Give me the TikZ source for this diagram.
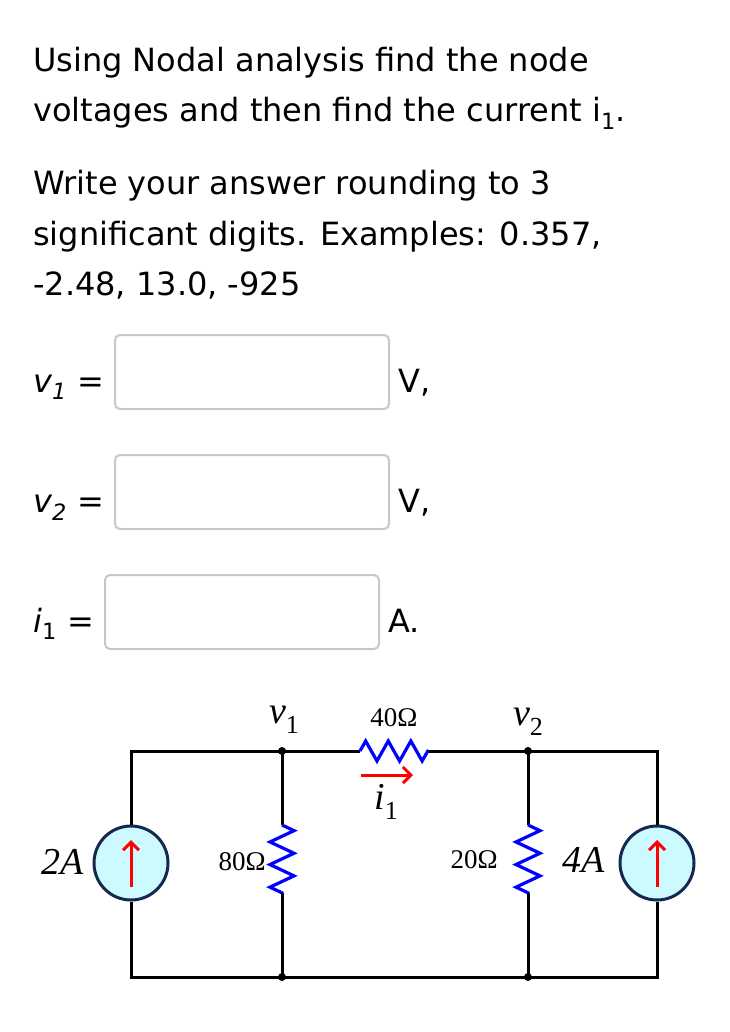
\documentclass[tikz,border=0pt]{standalone}
\usepackage{fontspec}
\setmainfont{DejaVu Sans}
\newfontfamily\ser{Liberation Serif}
\usetikzlibrary{decorations.pathmorphing,arrows.meta}
\newcommand{\mysub}[1]{\raisebox{-0.25em}{\fontsize{26}{26}\selectfont\upshape #1}}
\begin{document}
\begin{tikzpicture}[x=1pt,y=-1pt,
  txt/.style={anchor=base west,inner sep=0,font=\fontsize{32}{32}\selectfont},
  box/.style={draw=black!22,line width=2pt,rounded corners=5pt},
  wire/.style={line width=3pt},
  res/.style={draw=blue,line width=3.2pt,decorate,decoration={zigzag,segment length=22.6pt,amplitude=12pt,pre length=0pt,post length=0pt}},
  hres/.style={draw=blue,line width=3.2pt,decorate,decoration={zigzag,segment length=22.6pt,amplitude=10pt,pre length=0pt,post length=0pt}},
  src/.style={circle,draw={rgb,255:red,20;green,40;blue,80},line width=3pt,fill={rgb,255:red,204;green,250;blue,255},minimum size=74pt,inner sep=0},
  arr/.style={-{Straight Barb[length=8pt,width=16pt]},red,line width=3pt},
  lab/.style={inner sep=0,font=\ser\itshape\fontsize{38}{38}\selectfont},
  slab/.style={inner sep=0,font=\ser\fontsize{27}{27}\selectfont},
  dot/.style={circle,fill=black,inner sep=0,minimum size=8pt}]
\useasboundingbox (0,0) rectangle (729,1032);
\node[txt] (t1) at (33,72) {Using Nodal analysis find the node};
\node[txt] (t2) at (33,122) {voltages and then find the current i\textsubscript{1}.};
\node[txt] (t3) at (33,195) {Write your answer rounding to 3};
\node[txt] (t4) at (33,245) {significant digits. Examples: 0.357,};
\node[txt] (t5) at (33,295) {-2.48, 13.0, -925};
\node[txt] (l1) at (33,392) {\textit{v\textsubscript{1}} =};
\node[txt] (l2) at (33,512) {\textit{v\textsubscript{2}} =};
\node[txt] (l3) at (33,632) {\textit{i}\textsubscript{1} =};
\draw[box] (115,335) rectangle (389,409);
\draw[box] (115,455) rectangle (389,529);
\draw[box] (105,575) rectangle (379,649);
\node[txt] (u1) at (398,392) {V,};
\node[txt] (u2) at (398,512) {V,};
\node[txt] (u3) at (388,632) {A.};
% circuit
\coordinate (tl) at (131,751); \coordinate (bl) at (131,977);
\coordinate (tr) at (657,751); \coordinate (br) at (657,977);
\coordinate (a) at (282,751); \coordinate (ab) at (282,977);
\coordinate (b) at (528,751); \coordinate (bb) at (528,977);
\node[src] (s1) at (131,863) {};
\node[src] (s2) at (657,863) {};
\draw[arr] (131,887) -- (131,840);
\draw[arr] (657,887) -- (657,840);
\coordinate (r1t) at (282,825); \coordinate (r1b) at (282,893);
\coordinate (r2t) at (528,825); \coordinate (r2b) at (528,893);
\coordinate (r3l) at (360,751); \coordinate (r3r) at (428,751);
\draw[wire] (s1.north) -- (tl) -- (a) -- (r3l);
\draw[wire] (r3r) -- (b) -- (tr) -- (s2.north);
\draw[wire] (s1.south) -- (bl) -- (br) -- (s2.south);
\draw[wire] (a) -- (r1t); \draw[wire] (r1b) -- (ab);
\draw[wire] (b) -- (r2t); \draw[wire] (r2b) -- (bb);
\draw[res] (r1t) -- (r1b);
\draw[res] (r2t) -- (r2b);
\draw[hres] (r3l) -- (r3r);
\node[dot] at (a) {}; \node[dot] at (b) {}; \node[dot] at (ab) {}; \node[dot] at (bb) {};
\draw[arr] (361,775) -- (413,775);
\node[lab] (v1) at (284,720) {v\mysub{1}};
\node[lab] (v2) at (528,722) {v\mysub{2}};
\node[lab] (i1) at (386,802) {i\mysub{1}};
\node[slab] (o40) at (394,718) {40Ω};
\node[slab,anchor=east] (o80) at (266,862) {80Ω};
\node[slab,anchor=east] (o20) at (498,860) {20Ω};
\node[lab,anchor=east] (A2) at (84,862) {2A};
\node[lab,anchor=west] (A4) at (562,860) {4A};
\end{tikzpicture}
\end{document}
